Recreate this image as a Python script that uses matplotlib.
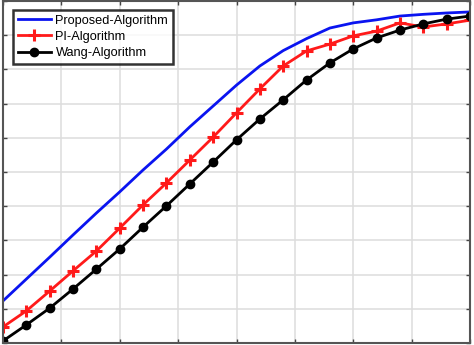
import numpy as np
import matplotlib
matplotlib.use('Agg')
import matplotlib.pyplot as plt

# x 坐标: 0 到 8, 每 0.4 一个点
x = np.arange(21) * 0.4

proposed = [1.23, 1.87, 2.51, 3.16, 3.80, 4.42, 5.06, 5.67, 6.32, 6.93,
            7.54, 8.10, 8.55, 8.90, 9.21, 9.36, 9.45, 9.56, 9.61, 9.65, 9.68]
pi_alg = [0.47, 0.94, 1.52, 2.11, 2.69, 3.36, 4.04, 4.68, 5.35, 6.02,
          6.73, 7.43, 8.10, 8.54, 8.74, 8.98, 9.12, 9.36, 9.24, 9.33, 9.44]
wang = [0.06, 0.53, 1.02, 1.58, 2.16, 2.75, 3.39, 4.01, 4.65, 5.29,
        5.94, 6.55, 7.11, 7.69, 8.19, 8.60, 8.92, 9.15, 9.33, 9.47, 9.56]

labels = ['Proposed-Algorithm', 'PI-Algorithm', 'Wang-Algorithm']


def main():
    plt.rcParams['font.family'] = ['Liberation Sans', 'DejaVu Sans']
    fig = plt.figure(figsize=(4.74, 3.45), dpi=100)
    ax = fig.add_axes([3 / 474, 2 / 345, 467 / 474, 342 / 345])

    ax.plot(x, proposed, color='#0a14f0', lw=2, label=labels[0])
    ax.plot(x, pi_alg, color='#ff1a1a', lw=2, marker='+', ms=8, mew=2.2,
            label=labels[1])
    ax.plot(x, wang, color='black', lw=2, marker='o', ms=6,
            label=labels[2])

    ax.set_xlim(0, 8)
    ax.set_ylim(0, 10)
    ax.set_xticks(np.arange(0, 9, 1))
    ax.set_yticks(np.arange(0, 11, 1))
    ax.set_xticklabels([])
    ax.set_yticklabels([])
    ax.tick_params(direction='in', length=3, width=1, color='#444444',
                   top=True, right=True)
    ax.grid(True, color='#dddddd', lw=1.1)
    ax.set_axisbelow(True)
    for s in ax.spines.values():
        s.set_color('#555555')
        s.set_linewidth(1.5)

    leg = ax.legend(loc='upper left', bbox_to_anchor=(0.022, 0.973),
                    fontsize=9.2, frameon=True, fancybox=False,
                    handlelength=2.6, handletextpad=0.35, labelspacing=0.33,
                    borderpad=0.35, borderaxespad=0)
    leg.get_frame().set_edgecolor('black')
    leg.get_frame().set_linewidth(1.8)

    plt.savefig('out.png', dpi=100)


if __name__ == '__main__':
    main()
